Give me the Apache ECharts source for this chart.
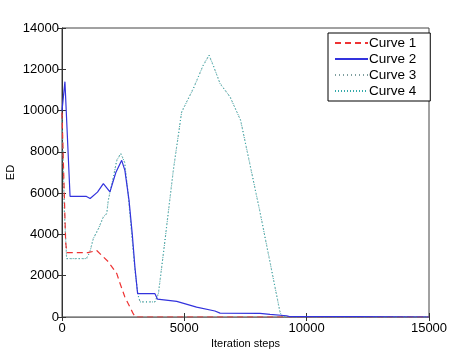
<!DOCTYPE html>
<html>
<head>
<meta charset="utf-8">
<script src="https://cdn.jsdelivr.net/npm/echarts@6/dist/echarts.min.js"></script>
<style>html,body{margin:0;padding:0;background:#fff}#c{width:474px;height:356px}</style>
</head>
<body>
<div id="c"></div>
<script>
var seriesNames = ['Curve 1', 'Curve 2', 'Curve 3', 'Curve 4'];
var xTicks = [0, 5000, 10000, 15000];
var yTicks = [0, 2000, 4000, 6000, 8000, 10000, 12000, 14000];

var curve1 = [[0,9900],[80,6500],[150,3600],[200,3120],[1060,3120],[1420,3220],[1890,2680],[2240,2100],[2350,1700],[2570,970],[2910,160],[3000,0],[15000,0]];
var curve2 = [[0,10000],[120,11400],[330,5840],[1000,5840],[1150,5740],[1450,6050],[1690,6460],[1960,6060],[2200,7000],[2440,7590],[2570,7100],[2740,5650],[2870,4040],[2980,2420],[3090,1130],[3800,1130],[3900,870],[4690,760],[5500,480],[6250,290],[6460,190],[8090,180],[8500,130],[9180,60],[9300,20],[12000,20],[15000,0]];
var curve3 = [[0,9800],[100,5000],[190,2830],[1000,2830],[1140,3150],[1280,3800],[1490,4280],[1690,4850],[1830,5010],[1890,5650],[2100,6780],[2240,7590],[2400,7920],[2560,7500],[2700,6000],[2850,4000],[2980,2300],[3100,1100],[3190,730],[3800,730],[3940,1130],[4210,3720],[4550,7110],[4890,9930],[5370,11070],[5770,12190],[6010,12680],[6180,12190],[6460,11310],[6870,10660],[7300,9530],[8090,5100],[8910,240],[9000,0],[15000,0]];
var curve4 = [[0,9800],[100,5000],[190,2830],[1000,2830],[1140,3150],[1280,3800],[1490,4280],[1690,4850],[1830,5010],[1890,5650],[2100,6780],[2240,7590],[2400,7920],[2560,7500],[2700,6000],[2850,4000],[2980,2300],[3100,1100],[3190,730],[3800,730],[3940,1130],[4210,3720],[4550,7110],[4890,9930],[5370,11070],[5770,12190],[6010,12680],[6180,12190],[6460,11310],[6870,10660],[7300,9530],[8090,5100],[8910,240],[9000,0],[15000,0]];

var font = 'Liberation Sans, Arial, sans-serif';
var chart = echarts.init(document.getElementById('c'), null, {renderer: 'canvas'});
function mkSeries(name, data, color, type, width, z) {
  return {name: name, type: 'line', data: data, showSymbol: false, symbol: 'none', z: z,
    lineStyle: {color: color, type: type, width: width}, itemStyle: {color: color}, animation: false};
}
chart.setOption({
  animation: false,
  backgroundColor: '#fff',
  grid: {left: 62, right: 45, top: 28, bottom: 39, show: true, borderColor: '#444', borderWidth: 1,
    containLabel: false, outerBoundsMode: 'none'},
  legend: {
    orient: 'vertical', left: 328, top: 33, itemWidth: 33, itemHeight: 10, itemGap: 2,
    padding: [3, 14, 3, 6], borderColor: '#000', borderWidth: 1, backgroundColor: '#fff',
    itemStyle: {opacity: 0},
    textStyle: {fontFamily: font, fontSize: 13.5, color: '#000', padding: [0, 0, 0, -4]},
    data: seriesNames
  },
  xAxis: [{
    type: 'value', min: 0, max: 15000, interval: 5000,
    name: 'Iteration steps', nameLocation: 'middle', nameGap: 21, nameMoveOverlap: false,
    nameTextStyle: {fontFamily: font, fontSize: 11, color: '#000'},
    axisLine: {show: true, lineStyle: {color: '#7a7a7a'}},
    axisTick: {show: true, inside: true, length: 4, lineStyle: {color: '#333'}},
    axisLabel: {fontFamily: font, fontSize: 13, color: '#000', margin: 5,
      formatter: function (v) { return xTicks.indexOf(v) >= 0 ? String(v) : ''; }},
    splitLine: {show: false}
  }, {
    type: 'value', position: 'top', min: 0, max: 15000, interval: 5000,
    axisLine: {show: true, lineStyle: {color: '#7a7a7a'}},
    axisTick: {show: true, inside: true, length: 4, lineStyle: {color: '#333'}},
    axisLabel: {show: false}, splitLine: {show: false}
  }],
  yAxis: [{
    type: 'value', min: 0, max: 14000, interval: 2000,
    name: 'ED', nameLocation: 'middle', nameGap: 46, nameRotate: 90, nameMoveOverlap: false,
    nameTextStyle: {fontFamily: font, fontSize: 11, color: '#000'},
    axisLine: {show: true, lineStyle: {color: '#7a7a7a'}},
    axisTick: {show: true, inside: true, length: 4, lineStyle: {color: '#333'}},
    axisLabel: {fontFamily: font, fontSize: 13, color: '#000', margin: 3,
      formatter: function (v) { return yTicks.indexOf(v) >= 0 ? String(v) : ''; }},
    splitLine: {show: false}
  }, {
    type: 'value', position: 'right', min: 0, max: 14000, interval: 2000,
    axisLine: {show: true, lineStyle: {color: '#333'}},
    axisTick: {show: true, inside: true, length: 4, lineStyle: {color: '#333'}},
    axisLabel: {show: false}, splitLine: {show: false}
  }],
  series: [
    mkSeries('Curve 1', curve1, '#ee3333', [6, 4], 1.2, 4),
    mkSeries('Curve 2', curve2, '#3333dd', 'solid', 1.2, 5),
    mkSeries('Curve 3', curve3, '#7f9f9f', [1, 3], 1.2, 2),
    mkSeries('Curve 4', curve4, '#33aaaa', [1, 2], 1, 3)
  ]
});
</script>
</body>
</html>
